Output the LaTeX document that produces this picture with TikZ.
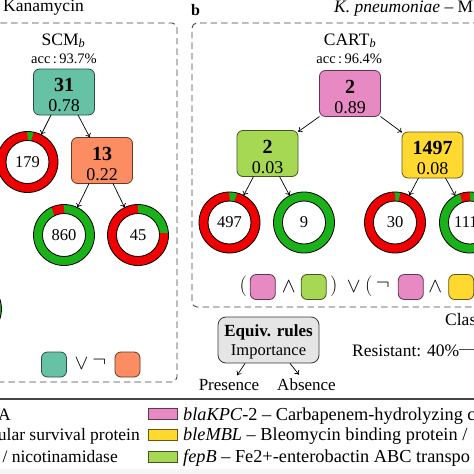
\documentclass[tikz,border=0pt]{standalone}
\usepackage{fontspec}
\setmainfont{Liberation Serif}
\usetikzlibrary{arrows.meta}
\definecolor{cteal}{RGB}{102,194,165}
\definecolor{corange}{RGB}{252,141,98}
\definecolor{cpink}{RGB}{231,138,195}
\definecolor{clime}{RGB}{166,216,84}
\definecolor{cyellow}{RGB}{255,217,47}
\definecolor{cred}{RGB}{240,0,0}
\definecolor{cgreen}{RGB}{25,178,25}
\definecolor{cdash}{RGB}{70,70,70}
\newcommand{\fsz}[1]{\fontsize{#1}{#1}\selectfont}
\tikzset{
  tbox/.style={rectangle, rounded corners=6pt, minimum width=61pt, minimum height=46pt,
    inner sep=0pt, outer sep=0pt, align=center, font=\fontsize{18}{20}\selectfont,
    line width=0.8pt},
  dnode/.style={circle, minimum size=61pt, inner sep=0pt, outer sep=0pt, font=\fsz{16.5}},
  arr/.style={-{To[length=4pt,width=6pt]}, line width=0.7pt},
  dbox/.style={dashed, dash pattern=on 6.5pt off 4pt, line width=0.9pt, draw=cdash, rounded corners=5pt},
  fsq/.style={rectangle, rounded corners=6pt, minimum width=25pt, minimum height=25pt,
    inner sep=0pt, line width=0.8pt},
  swatch/.style={rectangle, minimum width=29pt, minimum height=11pt, inner sep=0pt, line width=0.8pt},
  sym/.style={inner sep=0pt, font=\fsz{22}},
  lgtext/.style={inner sep=0pt, font=\fsz{17.5}},
  lgtextr/.style={inner sep=0pt, font=\fsz{18.3}},
}
\newcommand{\donut}[5]{%
  \node[dnode] (#1) at (#2,#3) {#5};
  \draw[line width=9pt, cgreen] (#1.center) circle[radius=26pt];
  \draw[line width=9pt, cred] ([shift={(90-#4:26pt)}]#1.center) arc[start angle=90-#4, end angle=-270, radius=26pt];
  \draw[line width=0.8pt] (#1.center) circle[radius=30.5pt] (#1.center) circle[radius=21.5pt];
}
\begin{document}
\begin{tikzpicture}[x=1pt,y=1pt]
\useasboundingbox (0,0) rectangle (474,-474);
\clip (0,0) rectangle (474,-474);
\fill[white] (0,0) rectangle (474,-474);

% headers
\node[anchor=base west, inner sep=0pt, font=\fsz{17.5}] (kan) at (3,-11.5) {Kanamycin};
\node[anchor=base west, inner sep=0pt, font=\fsz{16}\bfseries] (lb) at (191,-15.3) {b};
\node[anchor=base west, inner sep=0pt, font=\fsz{17.5}] (kpn) at (334,-12) {\textit{K. pneumoniae} – M};

% dashed panels
\draw[dbox] (-10,-23) -- (177,-23) -- (177,-382) -- (-10,-382);
\draw[dbox] (490,-23) -- (192,-23) -- (192,-307) -- (490,-307);

% left tree
\node[anchor=base, inner sep=0pt, font=\fsz{17.5}] (scm) at (63.5,-45) {SCM\textsubscript{\textit{b}}};
\node[anchor=base, inner sep=0pt, font=\fsz{14.5}] (acc1) at (64,-63.3) {acc\,:\,93.7\%};
\node[tbox, fill=cteal, draw=cteal!40!black] (b31) at (64,-92) {\rule{0pt}{20pt}{\fontsize{20}{20}\selectfont\bfseries 31}\\0.78};
\node[tbox, fill=corange, draw=corange!40!black] (b13) at (102,-160.5) {\rule{0pt}{20pt}{\fontsize{20}{20}\selectfont\bfseries 13}\\0.22};
\donut{d179}{27.5}{-162}{11}{179}
\donut{d860}{64}{-235}{335}{860}
\donut{d45}{138}{-235}{86}{45}
\draw[arr] ([xshift=-13]b31.south) -- (d179);
\draw[arr] ([xshift=14]b31.south) -- (b13);
\draw[arr] ([xshift=-13]b13.south) -- (d860);
\draw[arr] ([xshift=11]b13.south) -- (d45);

% partial donut at left edge
\draw[line width=9pt, cgreen] (-29,-309) circle[radius=26pt];
\draw[line width=0.8pt] (-29,-309) circle[radius=30.5pt];

% left formula
\node[fsq, fill=cteal, draw=cteal!40!black] (lf1) at (54,-364.5) {};
\node[sym, font=\fsz{20}] (lf2) at (81.5,-364) {$\vee$};
\node[sym, font=\fsz{20}] (lf3) at (99.3,-362) {$\neg$};
\node[fsq, fill=corange, draw=corange!40!black] (lf4) at (127.5,-364.5) {};

% right tree
\node[anchor=base, inner sep=0pt, font=\fsz{17.5}] (cart) at (350,-45) {CART\textsubscript{\textit{b}}};
\node[anchor=base, inner sep=0pt, font=\fsz{14.5}] (acc2) at (349.2,-63.3) {acc\,:\,96.4\%};
\node[tbox, fill=cpink, draw=cpink!40!black] (bp) at (350,-93.5) {\rule{0pt}{20pt}{\fontsize{20}{20}\selectfont\bfseries 2}\\0.89};
\node[tbox, fill=clime, draw=clime!40!black] (bl) at (267.5,-153.5) {\rule{0pt}{20pt}{\fontsize{20}{20}\selectfont\bfseries 2}\\0.03};
\node[tbox, fill=cyellow, draw=cyellow!40!black] (by) at (432.5,-155) {\rule{0pt}{20pt}{\fontsize{20}{20}\selectfont\bfseries 1497}\\0.08};
\donut{d497}{229.5}{-222.5}{14}{497}
\donut{d9}{304}{-222.5}{360}{9}
\donut{d30}{395}{-222.5}{10}{30}
\donut{d111}{470}{-222.5}{340}{1113}
\draw[arr] (bp.south west) -- (bl);
\draw[arr] (bp.south east) -- (by);
\draw[arr] ([xshift=-14]bl.south) -- (d497);
\draw[arr] ([xshift=12]bl.south) -- (d9);
\draw[arr] ([xshift=-14]by.south) -- (d30);
\draw[arr] ([xshift=13]by.south) -- (d111);

% right formula
\node[sym] (rf1) at (243.3,-286) {$($};
\node[fsq, fill=cpink, draw=cpink!40!black] (rf2) at (262.8,-287) {};
\node[sym] (rf3) at (288.7,-287) {$\wedge$};
\node[fsq, fill=clime, draw=clime!40!black] (rf4) at (313.7,-287) {};
\node[sym] (rf5) at (333.7,-286) {$)$};
\node[sym] (rf6) at (353.7,-287) {$\vee$};
\node[sym] (rf7) at (368.7,-286) {$($};
\node[sym] (rf8) at (382.8,-285) {$\neg$};
\node[fsq, fill=cpink, draw=cpink!40!black] (rf9) at (410.8,-287) {};
\node[sym] (rf10) at (435.3,-287) {$\wedge$};
\node[fsq, fill=cyellow, draw=cyellow!40!black] (rf11) at (461.2,-287) {};

% class legend
\node[anchor=base west, inner sep=0pt, font=\fsz{17.5}] (cls) at (445,-325.6) {Class};
\node[anchor=base west, inner sep=0pt, font=\fsz{17.5}] (res) at (352,-356) {Resistant: 40\%};
\coordinate (resend) at (480,-349);
\draw[line width=0.8pt, gray!60!black] (res.east |- resend) -- (resend);

% equiv rules box
\node[rectangle, rounded corners=8pt, minimum width=101pt, minimum height=46pt, inner sep=0pt,
  fill=gray!20, draw=gray!45!black, line width=0.8pt, align=center,
  font=\fontsize{16.5}{18.7}\selectfont] (eq) at (268.5,-340)
  {\rule{0pt}{16pt}{\fontsize{17}{18.7}\selectfont\bfseries Equiv. rules}\\Importance};
\node[anchor=base, inner sep=1pt, font=\fsz{17}] (pres) at (229,-390.7) {Presence};
\node[anchor=base, inner sep=1pt, font=\fsz{17}] (absn) at (306.5,-390.7) {Absence};
\draw[arr] ([xshift=-23.5]eq.south) -- ([xshift=8,yshift=3]pres.north);
\draw[arr] ([xshift=21.5]eq.south) -- ([xshift=-7.5,yshift=3]absn.north);

% separator
\draw[line width=1.8pt, gray!55!black] (-5,-399.3) -- (480,-399.3);

% legend
\node[anchor=base east, lgtext] (la1) at (11,-420) {A};
\node[anchor=base east, lgtext] (la2) at (140,-440.7) {ular survival protein};
\node[anchor=base east, lgtext] (la3) at (118,-462.7) {/ nicotinamidase};
\node[swatch, fill=cpink, draw=cpink!40!black] (s1) at (162.5,-414) {};
\node[swatch, fill=cyellow, draw=cyellow!40!black] (s2) at (162.5,-435) {};
\node[swatch, fill=clime, draw=clime!40!black] (s3) at (162.5,-456.5) {};
\node[anchor=base west, lgtextr] (lt1) at (183,-420) {\textit{blaKPC}-2 – Carbapenem-hydrolyzing cl};
\node[anchor=base west, lgtextr] (lt2) at (183,-440.7) {\textit{bleMBL} – Bleomycin binding protein / };
\node[anchor=base west, lgtextr] (lt3) at (183,-462.7) {\textit{fepB} – Fe2+-enterobactin ABC transpo};
\fill[gray!8] (0,-468.5) rectangle (474,-474);
\end{tikzpicture}
\end{document}
